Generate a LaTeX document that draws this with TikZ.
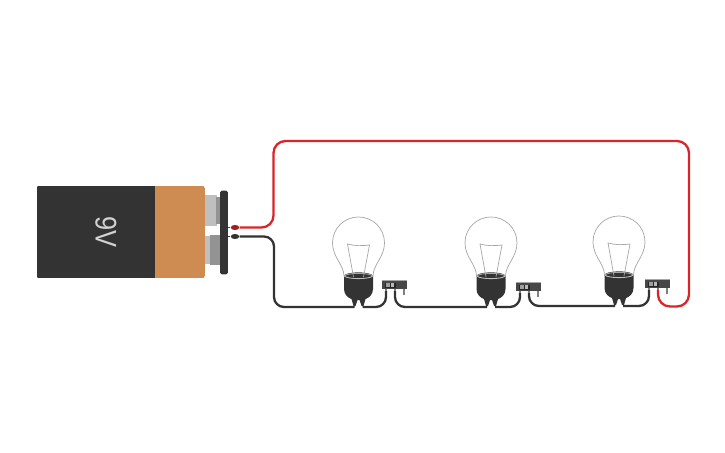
\documentclass[tikz,border=0pt]{standalone}
\usepackage{fontspec}
\setsansfont{Liberation Sans}
\usetikzlibrary{shapes.geometric}

\definecolor{batdark}{HTML}{333333}
\definecolor{battan}{HTML}{CF8C52}
\definecolor{wirered}{HTML}{DC2428}
\definecolor{wireblack}{HTML}{333333}

\tikzset{
    wire_red/.style={draw=wirered,line width=1.3pt,rounded corners=.24cm},
    wire_black/.style={draw=wireblack,line width=1.3pt,rounded corners=.2cm},
    plug_node/.style={ellipse,minimum width=.17cm,minimum height=.1cm,inner sep=0pt},
    lamp/.pic={
        % base
        \fill[batdark] (-14.5,33) -- (-14.5,46) .. controls (-14.5,52) and (-10,55) .. (-7,56) -- (-5,63) -- (-3,63) -- (-1,57)
            -- (1,57) -- (3,63) -- (5,63) -- (7,56) .. controls (10,55) and (14.5,52) .. (14.5,46) -- (14.5,33) -- cycle;
        \fill[batdark] (0,33) ellipse [x radius=14.5,y radius=3.6];
        \draw[gray!70,line width=.5pt] (-14.5,33) .. controls (-10,29.5) and (10,29.5) .. (14.5,33);
        \draw[gray!50,line width=.5pt] (-14.5,33) .. controls (-10,36.5) and (10,36.5) .. (14.5,33);
        % glass
        \draw[gray!70,line width=.4pt] (-14.5,33) .. controls (-14.5,22) and (-26,14) .. (-26,0)
            .. controls (-26,-15) and (-14,-26) .. (0,-26) .. controls (14,-26) and (26,-15) .. (26,0)
            .. controls (26,14) and (14.5,22) .. (14.5,33);
        % filament
        \draw[gray!70,line width=.4pt] (-5,34) -- (-11,1) .. controls (-4,3) and (4,3) .. (11,2) -- (5,34);
        \coordinate (-pl) at (-4,64);
        \coordinate (-pr) at (4,64);
    },
    switch/.pic={
        \fill[black!72] (0,0) rectangle (25,9);
        \fill[gray!70] (0,0) rectangle (25,1);
        \fill[black!85] (3,2.5) rectangle (14,7.5);
        \fill[gray!75] (4,3) rectangle (8,7);
        \fill[gray!55] (8.5,3) rectangle (12,7);
        \draw[gray,line width=.7pt] (22,9) -- (22,15);
        \draw[gray,line width=.7pt] (4,9) -- (4,12);
        \draw[gray,line width=.7pt] (13,9) -- (13,12);
        \coordinate (-pa) at (4,11);
        \coordinate (-pb) at (13,11);
    },
}

\begin{document}
\begin{tikzpicture}[x=.02cm,y=-.02cm]
    \useasboundingbox (0,0) rectangle (725,453);

    % battery
    \begin{scope}
        \clip[rounded corners=1.2pt] (36.5,186) rectangle (205,278);
        \fill[batdark] (36.5,186) rectangle (154.5,278);
        \fill[battan] (154.5,186) rectangle (205,278);
    \end{scope}
    \node[rotate=-90,xscale=.85,font=\sffamily\fontsize{17}{17}\selectfont,text=gray!35] (batlabel) at (106,232) {9V};

    \fill[gray!50] (205,195) rectangle (217,226);
    \fill[gray!85] (216,197) rectangle (220,224);
    \fill[gray!50] (205,236) rectangle (211,264);
    \fill[gray!85] (210,235) rectangle (220,265);

    % snap and plugs
    \node[fill=batdark,rounded corners=1pt,minimum width=.16cm,minimum height=1.68cm,inner sep=0pt] (snap) at (224,232.5) {};
    \node[plug_node,fill=wirered!75!black] (redplug) at (235,227.5) {};
    \node[plug_node,fill=wireblack] (blackplug) at (235,236.5) {};
    \draw[wirered!75!black,line width=.6pt] (snap.east |- redplug) -- (redplug);
    \draw[wireblack,line width=.6pt] (snap.east |- blackplug) -- (blackplug);

    \pic (lampA) at (358.5,243) {lamp};
    \pic (lampB) at (491,243) {lamp};
    \pic (lampC) at (619,242) {lamp};
    \pic (swA) at (382,280) {switch};
    \pic (swB) at (516,282) {switch};
    \pic (swC) at (645,279) {switch};

    \coordinate (redtop) at (273.5,141);
    \coordinate (redfar) at (689,306.5);
    \coordinate (blackdown) at (274,307);

    \draw[wire_red] (redplug) -| (redtop) -| (redfar) -| (swC-pb);
    \draw[wire_black] (blackplug) -| (blackdown) -- (lampA-pl);

    \draw[wire_black] (lampA-pr) -| (swA-pa);
    \draw[wire_black] (swA-pb) |- (lampB-pl);
    \draw[wire_black] (lampB-pr) -| (swB-pa);
    \draw[wire_black] (swB-pb) |- (lampC-pl);
    \draw[wire_black] (lampC-pr) -| (swC-pa);
\end{tikzpicture}
\end{document}
